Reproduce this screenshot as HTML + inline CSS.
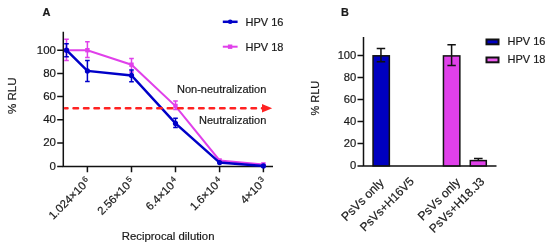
<!DOCTYPE html>
<html><head><meta charset="utf-8">
<style>
html,body{margin:0;padding:0;background:#fff;width:550px;height:248px;overflow:hidden}
svg{display:block}
text{font-family:"Liberation Sans",Arial,sans-serif;fill:#1a1a1a;stroke:#1a1a1a;stroke-width:0.2px}
</style></head><body>
<svg width="550" height="248" viewBox="0 0 550 248">
<rect width="550" height="248" fill="#fff"/>
<!-- Panel A -->
<text x="42.6" y="15.6" font-size="11" font-weight="bold">A</text>
<text transform="translate(15.6,114.1) rotate(-90)" font-size="11.6">% RLU</text>
<!-- y axis -->
<g stroke="#111" stroke-width="1.5" fill="none">
<path d="M63.3,31.8 V166.4 H273"/>
<path d="M57.2,50.2 H63 M57.2,73.4 H63 M57.2,96.6 H63 M57.2,119.8 H63 M57.2,143 H63 M57.2,166.4 H63"/>
<path d="M87.4,166 V172.2 M131.5,166 V172.2 M175.5,166 V172.2 M219.6,166 V172.2 M263.4,166 V172.2"/>
</g>
<g font-size="11.5" text-anchor="end">
<text x="55.95" y="53.67">100</text>
<text x="55.95" y="76.87">80</text>
<text x="55.95" y="100.07">60</text>
<text x="55.95" y="123.27">40</text>
<text x="55.95" y="146.47">20</text>
<text x="55.95" y="169.67">0</text>
</g>
<path d="M262,104.1 L272.2,108.3 L262,112.4 Z" fill="#ff2222"/>
<g font-size="11" text-anchor="end">
<text x="266.3" y="93.3">Non-neutralization</text>
<text x="266.3" y="124.2">Neutralization</text>
</g>
<!-- magenta series -->
<g stroke="#e040ea" fill="none" stroke-width="2">
<polyline points="66.5,50.2 87.4,50.2 131.5,64.7 175.5,106.1 219.6,160.5 263.4,164.4"/>
<path d="M66.5,39.3 V60.4 M64.2,39.3 H68.8 M64.2,60.4 H68.8" stroke-width="1.5"/>
<path d="M87.4,41.7 V57.4 M85.1,41.7 H89.7 M85.1,57.4 H89.7" stroke-width="1.5"/>
<path d="M131.5,58.4 V72.0 M129.2,58.4 H133.8 M129.2,72.0 H133.8" stroke-width="1.5"/>
<path d="M175.5,101.1 V109.6 M173.2,101.1 H177.8 M173.2,109.6 H177.8" stroke-width="1.5"/>
</g>
<g fill="#e040ea">
<rect x="64.3" y="48.0" width="4.4" height="4.4"/>
<rect x="85.2" y="48.0" width="4.4" height="4.4"/>
<rect x="129.3" y="62.5" width="4.4" height="4.4"/>
<rect x="173.3" y="103.8" width="4.4" height="4.4"/>
<rect x="217.4" y="158.3" width="4.4" height="4.4"/>
<rect x="261.2" y="162.2" width="4.4" height="4.4"/>
</g>
<!-- blue series -->
<g stroke="#0000c8" fill="none" stroke-width="2.5">
<polyline points="66.5,50.2 87.4,70.9 131.5,75.4 175.5,123.4 219.6,162.6 263.4,165.9"/>
<path d="M66.5,43.8 V56.7 M64.2,43.8 H68.8 M64.2,56.7 H68.8" stroke-width="1.5"/>
<path d="M87.4,60.6 V81.4 M85.1,60.6 H89.7 M85.1,81.4 H89.7" stroke-width="1.5"/>
<path d="M131.5,69.9 V81.7 M129.2,69.9 H133.8 M129.2,81.7 H133.8" stroke-width="1.5"/>
<path d="M175.5,118.3 V127.5 M173.2,118.3 H177.8 M173.2,127.5 H177.8" stroke-width="1.5"/>
</g>
<g fill="#0000c8">
<circle cx="66.5" cy="50.2" r="2.6"/>
<circle cx="87.4" cy="70.9" r="2.6"/>
<circle cx="131.5" cy="75.4" r="2.6"/>
<circle cx="175.5" cy="123.4" r="2.6"/>
<circle cx="219.6" cy="162.6" r="2.6"/>
<circle cx="263.4" cy="165.9" r="2.6"/>
</g>
<path d="M65,108.2 H262" stroke="#ff2222" stroke-width="2.4" stroke-linecap="round" stroke-dasharray="4.6 5.87" stroke-dashoffset="2" fill="none"/>
<!-- legend A -->
<path d="M222.8,21.8 H237.6" stroke="#0000c8" stroke-width="2.5"/>
<circle cx="230.2" cy="21.8" r="2.3" fill="#0000c8"/>
<path d="M222.8,46.7 H237.6" stroke="#e040ea" stroke-width="2"/>
<rect x="227.9" y="44.5" width="4.4" height="4.4" fill="#e040ea"/>
<g font-size="11">
<text x="245.5" y="25.6">HPV 16</text>
<text x="245.5" y="50.5">HPV 18</text>
</g>
<!-- x tick labels A -->
<g font-size="11.3" text-anchor="end">
<text transform="translate(91.1,182.2) rotate(-45)">1.024×10<tspan font-size="8" dx="1.5" dy="-3.8">6</tspan></text>
<text transform="translate(135.2,182.2) rotate(-45)">2.56×10<tspan font-size="8" dx="1.5" dy="-3.8">5</tspan></text>
<text transform="translate(179.2,182.2) rotate(-45)">6.4×10<tspan font-size="8" dx="1.5" dy="-3.8">4</tspan></text>
<text transform="translate(223.3,182.2) rotate(-45)">1.6×10<tspan font-size="8" dx="1.5" dy="-3.8">4</tspan></text>
<text transform="translate(267.1,182.2) rotate(-45)">4×10<tspan font-size="8" dx="1.5" dy="-3.8">3</tspan></text>
</g>
<text x="121.8" y="239.6" font-size="11.35">Reciprocal dilution</text>

<!-- Panel B -->
<text x="341.1" y="15.9" font-size="10.9" font-weight="bold">B</text>
<text transform="translate(318.8,115.4) rotate(-90)" font-size="10.9">% RLU</text>
<g stroke="#111" stroke-width="1.5" fill="none">
<path d="M363.5,37 V165.9 H496.5"/>
<path d="M357.5,55.6 H363 M357.5,77.6 H363 M357.5,99.6 H363 M357.5,121.6 H363 M357.5,143.6 H363 M357.5,165.9 H363"/>
</g>
<g font-size="11.2" text-anchor="end">
<text x="356.3" y="59.10">100</text>
<text x="356.3" y="81.10">80</text>
<text x="356.3" y="103.10">60</text>
<text x="356.3" y="125.10">40</text>
<text x="356.3" y="147.10">20</text>
<text x="356.3" y="169.10">0</text>
</g>
<!-- bars -->
<g stroke="#111" stroke-width="1.5">
<rect x="373.05" y="55.8" width="16.3" height="110.1" fill="#0000c0"/>
<rect x="443.45" y="55.9" width="16.4" height="110" fill="#e040ea"/>
<rect x="470.3" y="160.6" width="16" height="5.3" fill="#e040ea"/>
</g>
<g stroke="#111" stroke-width="1.5" fill="none">
<path d="M380.95,48.6 V61.7 M376.7,48.6 H385.2 M376.7,61.7 H385.2"/>
<path d="M451.6,44.8 V65.6 M447.4,44.8 H455.8 M447.4,65.6 H455.8"/>
<path d="M478.3,158.5 V161 M474,158.5 H482.6"/>
</g>
<!-- legend B -->
<rect x="486.5" y="39.5" width="12" height="4.8" fill="#0000c0" stroke="#111" stroke-width="2"/>
<rect x="486.5" y="57.5" width="12" height="4.8" fill="#ec5cee" stroke="#111" stroke-width="2"/>
<g font-size="11">
<text x="507.5" y="45.4">HPV 16</text>
<text x="507.5" y="62.9">HPV 18</text>
</g>
<g font-size="12.2" text-anchor="end">
<text transform="translate(384.5,183.5) rotate(-45)">PsVs only</text>
<text font-size="11.8" transform="translate(414.7,182.2) rotate(-45)">PsVs+H16V5</text>
<text transform="translate(461,183) rotate(-45)">PsVs only</text>
<text font-size="11.9" transform="translate(485.3,182.2) rotate(-45)">PsVs+H18.J3</text>
</g>
</svg>
</body></html>
